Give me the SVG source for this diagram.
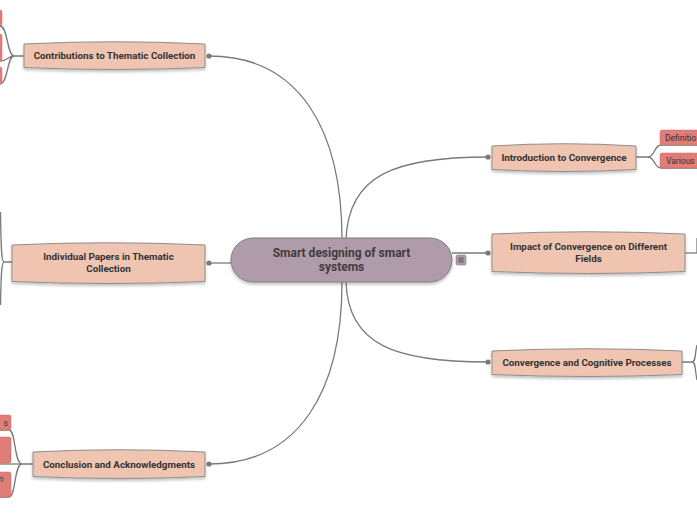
<svg xmlns="http://www.w3.org/2000/svg" width="697" height="520" viewBox="0 0 697 520">
<defs>
<filter id="sh" x="-10%" y="-30%" width="120%" height="170%">
<feDropShadow dx="0" dy="2" stdDeviation="1.5" flood-color="#000" flood-opacity="0.25"/>
</filter>
<style>
.con{fill:none;stroke:#7a7a7a;stroke-width:1.3}
.dot{fill:#7a7a7a}
.node{fill:#efc4b1;stroke:#8e8e8e;stroke-width:1;filter:url(#sh)}
.root{fill:#b09bab;stroke:#7f7f7f;stroke-width:1;filter:url(#sh)}
.child{fill:#e17d78;stroke:#c96a66;stroke-width:0.5}
.t{font-family:Roboto,"Liberation Sans",sans-serif;font-weight:700;font-size:9.8px;fill:#333;text-anchor:middle}
.rt{font-family:Roboto,"Liberation Sans",sans-serif;font-weight:700;font-size:12px;fill:#3f3a3f;text-anchor:middle}
.ct{font-family:Roboto,"Liberation Sans",sans-serif;font-size:8.5px;fill:#333}
</style>
</defs>
<rect width="697" height="520" fill="#fff"/>

<g id="connectors">
<path class="con" d="M209,56 C300,56 342,130 342,240"/>
<path class="con" d="M209,464 C300,464 342,390 342,282"/>
<path class="con" d="M231,263 L209,263"/>
<path class="con" d="M488,157 C395,157 348,175 346,240"/>
<path class="con" d="M488,362 C395,362 348,345 346,282"/>
<path class="con" d="M452,253 L488,253"/>
<circle class="dot" cx="209" cy="56" r="2.6"/>
<circle class="dot" cx="209" cy="263" r="2.6"/>
<circle class="dot" cx="209" cy="464" r="2.6"/>
<circle class="dot" cx="488" cy="157" r="2.6"/>
<circle class="dot" cx="488" cy="253" r="2.6"/>
<circle class="dot" cx="488" cy="362" r="2.6"/>
<path class="con" d="M24,56 L14,56 C7,56 8,26 0,26"/>
<path class="con" d="M14,56 C8,56 8,61 0,61"/>
<path class="con" d="M14,56 C7,56 8,84 0,84"/>
<path class="con" d="M12,262 L4,262 C1,262 1,240 0.5,212"/>
<path class="con" d="M4,262 C1,262 1,285 0.5,305"/>
<path class="con" d="M33,464 L22,464 C14,464 16,430 9,430 L0,430"/>
<path class="con" d="M22,464 L0,464"/>
<path class="con" d="M22,464 C14,464 16,497 9,497 L0,497"/>
<path class="con" d="M636,157 L648,157 C655,157 654,145 661,145 L697,145"/>
<path class="con" d="M648,157 C655,157 654,168 661,168 L697,168"/>
<path class="con" d="M685,253 L697,253"/>
<path class="con" d="M697,253 C697,248 697,244 697,238"/>
<path class="con" d="M682,362 L692,362 C696,362 695,352 697,345"/>
<path class="con" d="M692,362 C696,362 695,372 697,380"/>
</g>

<g id="children">
<rect class="child" x="-40" y="10" width="42" height="16" rx="2"/>
<rect class="child" x="-40" y="34" width="42" height="27" rx="2"/>
<rect class="child" x="-40" y="67" width="42" height="17" rx="2"/>
<rect class="child" x="-40" y="415" width="51" height="15" rx="2"/>
<rect class="child" x="-40" y="437" width="51" height="26" rx="2"/>
<rect class="child" x="-40" y="472" width="51" height="25" rx="2"/>
<text class="ct" x="8" y="425.5" text-anchor="end">s</text>
<text class="ct" x="3.5" y="482" text-anchor="end">n</text>
<rect class="child" x="660" y="130" width="60" height="15" rx="2"/>
<rect class="child" x="660" y="153" width="60" height="15" rx="2"/>
<text class="ct" x="665" y="141">Definitio</text>
<text class="ct" x="666" y="164">Various</text>
</g>

<g id="root">
<rect class="root" x="231" y="238" width="221" height="44" rx="22"/>
<text class="rt" x="341.5" y="257">Smart designing of smart</text>
<text class="rt" x="341.5" y="271">systems</text>
<rect x="456" y="255" width="10" height="10" rx="1.5" fill="#b09bab" stroke="#8a7a88" stroke-width="0.6"/>
<path d="M458.3,258 H463.7 M458.3,260 H463.7 M458.3,262 H463.7" stroke="#4a3f48" stroke-width="0.8"/>
</g>

<g id="n-contributions">
<path class="node" d="M24,44 Q114.5,39.5 205,44 L205,67.5 Q114.5,71.5 24,67.5 Z"/>
<text class="t" x="114.5" y="59">Contributions to Thematic Collection</text>
</g>
<g id="n-individual">
<path class="node" d="M12,245 Q108.5,240.5 205,245 L205,281.5 Q108.5,285.5 12,281.5 Z"/>
<text class="t" x="108.5" y="260">Individual Papers in Thematic</text>
<text class="t" x="108.5" y="272">Collection</text>
</g>
<g id="n-conclusion">
<path class="node" d="M33,452 Q119,447.5 205,452 L205,476.5 Q119,480.5 33,476.5 Z"/>
<text class="t" x="119" y="468">Conclusion and Acknowledgments</text>
</g>
<g id="n-intro">
<path class="node" d="M492,146 Q564,141.5 636,146 L636,169.5 Q564,173.5 492,169.5 Z"/>
<text class="t" x="564" y="161">Introduction to Convergence</text>
</g>
<g id="n-impact">
<path class="node" d="M492,234 Q588.5,229.5 685,234 L685,271.5 Q588.5,275.5 492,271.5 Z"/>
<text class="t" x="588.5" y="249.5">Impact of Convergence on Different</text>
<text class="t" x="588.5" y="261.5">Fields</text>
</g>
<g id="n-cognitive">
<path class="node" d="M492,351 Q587,346.5 682,351 L682,374.5 Q587,378.5 492,374.5 Z"/>
<text class="t" x="587" y="366">Convergence and Cognitive Processes</text>
</g>
</svg>
